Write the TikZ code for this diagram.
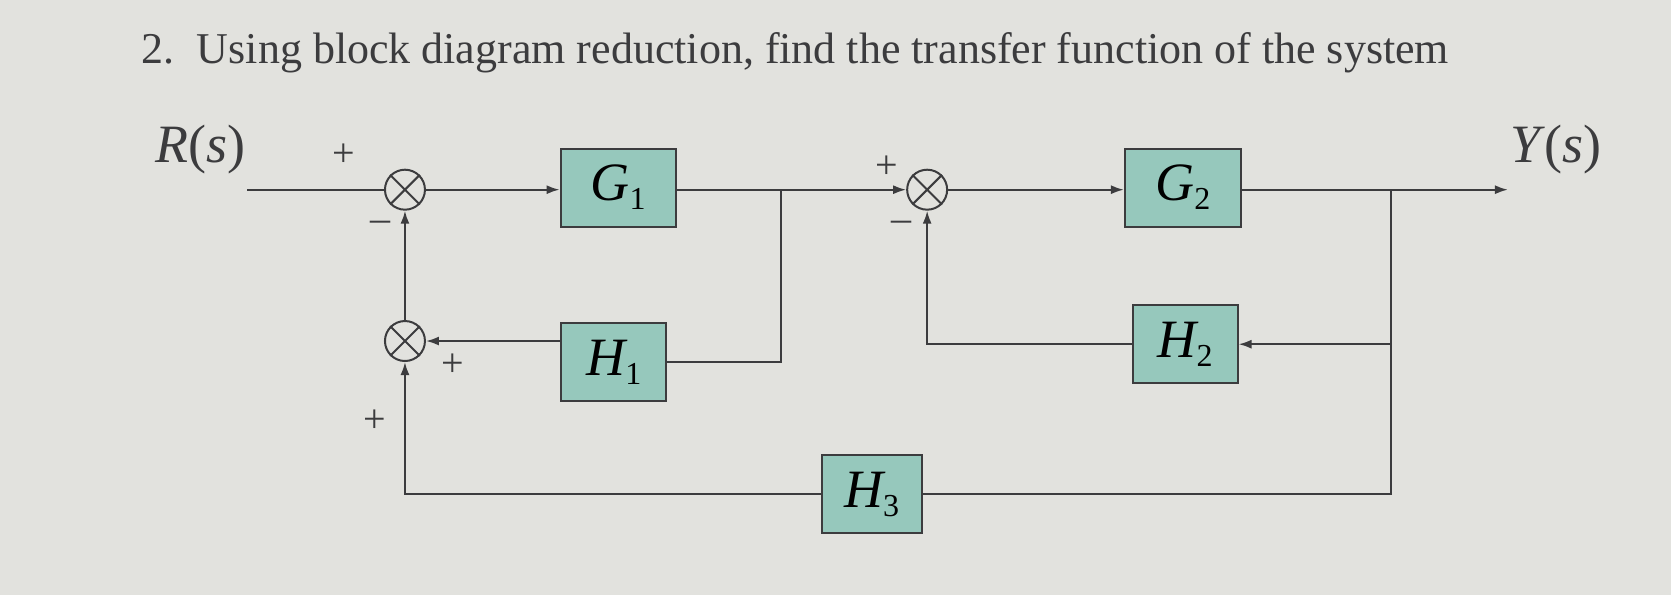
\documentclass[tikz,border=0pt]{standalone}
\usepackage{fontspec}
\setmainfont{Liberation Serif}
\usetikzlibrary{arrows.meta}
\definecolor{bg}{RGB}{226,226,222}
\definecolor{blk}{RGB}{150,200,188}
\definecolor{ink}{RGB}{60,60,62}
\begin{document}
\begin{tikzpicture}[x=1.066pt,y=-1.066pt,
  blockbox/.style={draw=ink,fill=blk,line width=2pt,minimum width=#1,minimum height=78,inner sep=0pt,font=\fontsize{54}{54}\selectfont\itshape},
  sumnode/.style={draw=ink,circle,line width=2pt,minimum size=40,inner sep=0pt},
  wire/.style={draw=ink,line width=2pt},
  arr/.style={wire,-{Latex[length=13pt,width=9pt]}},
  sign/.style={font=\fontsize{40}{40}\selectfont,text=ink}]
\fill[bg] (0,0) rectangle (1568,558);
\useasboundingbox (0,0) rectangle (1568,558);
\node[anchor=base west,text=ink,font=\fontsize{44}{46}\selectfont,inner sep=0pt] (title) at (133,60) {2.\ \ Using block diagram reduction, find the transfer function of the system};
\node[text=ink,font=\fontsize{54}{54}\selectfont] (R) at (188,140) {\textit{R}(\textit{s})};
\node[text=ink,font=\fontsize{54}{54}\selectfont] (Y) at (1460,140) {\textit{Y}(\textit{s})};
\coordinate (rin) at (232,178);
\node[sumnode] (s1) at (380,178) {};
\node[sumnode] (s3) at (380,320) {};
\node[sumnode] (s2) at (870,178) {};
\foreach \s in {s1,s2,s3}{\draw[wire] (\s.45)--(\s.225) (\s.135)--(\s.315);}
\node[blockbox=115] (G1) at (580,176) {G\raisebox{-9pt}{\fontsize{32}{32}\selectfont\upshape 1}};
\node[blockbox=105] (H1) at (576,340) {H\raisebox{-9pt}{\fontsize{32}{32}\selectfont\upshape 1}};
\node[blockbox=116] (G2) at (1110,176) {G\raisebox{-9pt}{\fontsize{32}{32}\selectfont\upshape 2}};
\node[blockbox=105] (H2) at (1112,323) {H\raisebox{-9pt}{\fontsize{32}{32}\selectfont\upshape 2}};
\node[blockbox=100] (H3) at (818,464) {H\raisebox{-9pt}{\fontsize{32}{32}\selectfont\upshape 3}};
\coordinate (b1) at (733,178);
\coordinate (b2) at (1305,178);
\coordinate (out) at (1415,178);
\coordinate (h1in) at (H1.west |- s3);
\draw[wire] (rin) -- (s1.west);
\draw[arr] (s1.east) -- (G1.west |- s1);
\draw[wire] (G1.east |- s1) -- (b1);
\draw[arr] (b1) -- (s2.west);
\draw[arr] (G2.east |- s2) -- (out);
\draw[arr] (s2.east) -- (G2.west |- s2);
\draw[wire] (b1) |- (H1.east);
\draw[arr] (h1in) -- (s3.east);
\draw[arr] (s3.north) -- (s1.south);
\draw[arr] (H3.west) -| (s3.south);
\draw[wire] (b2) |- (H3.east);
\draw[arr] (b2 |- H2.east) -- (H2.east);
\draw[arr] (H2.west) -| (s2.south);
\node[sign] (p1) at (323,146) {+};
\node[sign] (m1) at (357,212) {\textendash};
\node[sign] (p2) at (832,157) {+};
\node[sign] (m2) at (846,212) {\textendash};
\node[sign] (p3) at (425,343) {+};
\node[sign] (p4) at (352,395) {+};
\end{tikzpicture}
\end{document}
